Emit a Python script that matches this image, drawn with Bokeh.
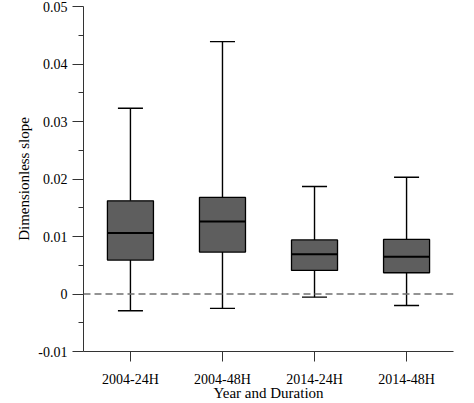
from bokeh.plotting import figure
from bokeh.models import Range1d, FixedTicker, Span, ColumnDataSource
from bokeh.embed import file_html
from bokeh.resources import INLINE

categories = ["2004-24H", "2004-48H", "2014-24H", "2014-48H"]
whisker_low = [-0.0029, -0.0025, -0.00055, -0.0020]
q1 = [0.0059, 0.0073, 0.0041, 0.0037]
median = [0.0106, 0.0126, 0.0069, 0.0065]
q3 = [0.0162, 0.0168, 0.0094, 0.0095]
whisker_high = [0.0323, 0.0439, 0.0187, 0.0203]
y_ticks = [-0.01, 0.0, 0.01, 0.02, 0.03, 0.04, 0.05]
y_tick_labels = ["-0.01", "0", "0.01", "0.02", "0.03", "0.04", "0.05"]

xs = list(range(1, len(categories) + 1))
cap = 0.136
src = ColumnDataSource(dict(
    x=xs, lo=whisker_low, q1=q1, med=median, q3=q3, hi=whisker_high,
    xl=[x - cap for x in xs], xr=[x + cap for x in xs],
    bl=[x - 0.25 for x in xs], br=[x + 0.25 for x in xs],
))

p = figure(width=474, height=403, output_backend="svg", toolbar_location=None,
           x_range=Range1d(0.49, 4.51), y_range=Range1d(-0.01, 0.05),
           min_border_left=83, min_border_right=21, min_border_top=6,
           min_border_bottom=46)
p.outline_line_color = None
p.xgrid.visible = False
p.ygrid.visible = False
p.background_fill_color = "white"
p.border_fill_color = "white"

p.add_layout(Span(location=0, dimension="width", line_color="#707070",
                  line_dash="7 4", line_width=1.3))

# whiskers
p.segment(x0="x", y0="lo", x1="x", y1="q1", source=src, line_color="black", line_width=1.4)
p.segment(x0="x", y0="q3", x1="x", y1="hi", source=src, line_color="black", line_width=1.4)
p.segment(x0="xl", y0="lo", x1="xr", y1="lo", source=src, line_color="black", line_width=1.4)
p.segment(x0="xl", y0="hi", x1="xr", y1="hi", source=src, line_color="black", line_width=1.4)
# boxes
p.vbar(x="x", width=0.5, bottom="q1", top="q3", source=src,
       fill_color="#5e5e5e", line_color="black", line_width=1.3)
p.segment(x0="bl", y0="med", x1="br", y1="med", source=src, line_color="black", line_width=2)

font = "Liberation Serif"
for ax in (p.xaxis, p.yaxis):
    ax.axis_label_text_font = font
    ax.axis_label_text_font_style = "normal"
    ax.axis_label_text_font_size = "15px"
    ax.axis_label_text_color = "black"
    ax.major_label_text_font = font
    ax.major_label_text_font_size = "14px"
    ax.major_label_text_color = "black"
    ax.axis_line_color = "#333333"
    ax.major_tick_line_color = "#333333"
    ax.minor_tick_line_color = "#333333"
    ax.major_tick_in = 0

p.xaxis.ticker = FixedTicker(ticks=xs)
p.xaxis.major_label_overrides = {x: c for x, c in zip(xs, categories)}
p.xaxis.major_tick_out = 10
p.xaxis.minor_tick_line_color = None
p.xaxis.major_label_standoff = 10
p.xaxis.axis_label = "Year and Duration"
p.xaxis.axis_label_standoff = -5

minor = [-0.005, 0.005, 0.015, 0.025, 0.035, 0.045]
p.yaxis.ticker = FixedTicker(ticks=y_ticks, minor_ticks=minor)
p.yaxis.major_label_overrides = {t: l for t, l in zip(y_ticks, y_tick_labels)}
p.yaxis.major_tick_out = 11
p.yaxis.minor_tick_out = 5
p.yaxis.minor_tick_in = 0
p.yaxis.major_label_standoff = 5
p.yaxis.axis_label = "Dimensionless slope"
p.yaxis.axis_label_standoff = 3

open("out.html", "w").write(file_html(p, INLINE))
